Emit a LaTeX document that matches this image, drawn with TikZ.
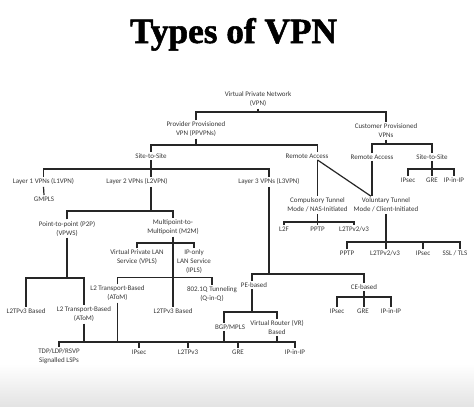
\documentclass[tikz,border=0pt]{standalone}
\usepackage{fontspec}
\usepackage{graphicx}
\newfontfamily\lab{Carlito}
\newfontfamily\ttl[BoldFeatures={FakeBold=1.5}]{Liberation Serif}
\usetikzlibrary{calc}
\begin{document}
\begin{tikzpicture}[x=1pt,y=-1pt,
  lbl/.style={font=\lab\fontsize{7}{9}\selectfont, text=black!78, align=center, inner xsep=0.5pt, inner ysep=1.5pt},
  ln/.style={draw=black!85, line width=1.2pt}]
\useasboundingbox (0,0) rectangle (474,407);
\fill[white] (0,0) rectangle (474,407);
\shade[top color=white,bottom color=black!11] (0,364) rectangle (474,407);

\node[anchor=base, inner sep=0pt] (title) at (233.5,43) {\resizebox{207pt}{25pt}{\ttl\bfseries Types of VPN}};

% nodes
\node[lbl] (vpn) at (258,99.5) {Virtual Private Network\\(VPN)};
\node[lbl] (ppvpn) at (196,129.5) {Provider Provisioned\\VPN (PPVPNs)};
\node[lbl] (cpvpn) at (386,131) {Customer Provisioned\\VPNs};
\node[lbl] (s2s) at (151,156) {Site-to-Site};
\node[lbl] (ra) at (307,156) {Remote Access};
\node[lbl] (cra) at (372,157) {Remote Access};
\node[lbl] (cs2s) at (432,157) {Site-to-Site};
\node[lbl] (cipsec) at (408,180) {IPsec};
\node[lbl] (cgre) at (432,180) {GRE};
\node[lbl] (cipip) at (454,180) {IP-in-IP};
\node[lbl] (l1) at (43.5,182) {Layer 1 VPNs (L1VPN)};
\node[lbl] (l2) at (137,182) {Layer 2 VPNs (L2VPN)};
\node[lbl] (l3) at (269,182) {Layer 3 VPNs (L3VPN)};
\node[lbl] (gmpls) at (44,199) {GMPLS};
\node[lbl] (comp) at (317.5,205) {Compulsory Tunnel\\Mode / NAS-Initiated};
\node[lbl] (vol) at (386,205) {Voluntary Tunnel\\Mode / Client-Initiated};
\node[lbl] (l2f) at (284,229) {L2F};
\node[lbl] (pptpa) at (317.5,229) {PPTP};
\node[lbl] (ltpa) at (354,229) {L2TPv2/v3};
\node[lbl] (pptpb) at (347,253) {PPTP};
\node[lbl] (ltpb) at (385,253) {L2TPv2/v3};
\node[lbl] (ipsecb) at (423,253) {IPsec};
\node[lbl] (ssl) at (455,253) {SSL / TLS};
\node[lbl] (p2p) at (67,228.5) {Point-to-point (P2P)\\(VPWS)};
\node[lbl] (m2m) at (173,227.5) {Multipoint-to-\\Multipoint (M2M)};
\node[lbl] (vpls) at (137,257.5) {Virtual Private LAN\\Service (VPLS)};
\node[lbl] (ipls) at (194,262) {IP-only\\LAN Service\\(IPLS)};
\node[lbl] (atomb) at (117.5,293.5) {L2 Transport-Based\\(AToM)};
\node[lbl] (qinq) at (212,294) {802.1Q Tunneling\\(Q-in-Q)};
\node[lbl] (ltbb) at (173,311) {L2TPv3 Based};
\node[lbl] (ltba) at (26,311) {L2TPv3 Based};
\node[lbl] (atoma) at (84,314.5) {L2 Transport-Based\\(AToM)};
\node[lbl] (pe) at (254,285) {PE-based};
\node[lbl] (ce) at (364,287) {CE-based};
\node[lbl] (ceipsec) at (337,311) {IPsec};
\node[lbl] (cegre) at (363,311) {GRE};
\node[lbl] (ceipip) at (391,311) {IP-in-IP};
\node[lbl] (bgp) at (230,327) {BGP/MPLS};
\node[lbl] (vr) at (277,327.5) {Virtual Router (VR)\\Based};
\node[lbl] (tdp) at (59,356) {TDP/LDP/RSVP\\Signalled LSPs};
\node[lbl] (bipsec) at (139,352) {IPsec};
\node[lbl] (bltp) at (188,352) {L2TPv3};
\node[lbl] (bgre) at (238,352) {GRE};
\node[lbl] (bipip) at (295,352) {IP-in-IP};

% helper coordinates for off-centre connectors
\coordinate (raT) at ([xshift=10.5pt]ra.north);
\coordinate (raB) at ([xshift=10.5pt]ra.south);
\coordinate (l2T) at ([xshift=14pt]l2.north);
\coordinate (l2B) at ([xshift=14pt]l2.south);
\coordinate (volT) at ([xshift=-15pt]vol.north);
\coordinate (sslT) at ([xshift=5pt]ssl.north);
\coordinate (peB) at ([xshift=-2pt]pe.south);
\coordinate (peT) at ([xshift=-2pt]pe.north);
\coordinate (bgpT) at ([xshift=-6pt]bgp.north);
\coordinate (bgpB) at ([xshift=-6pt]bgp.south);

% connectors
\draw[ln] (vpn.south) -- (vpn.south |- 0,112);
\draw[ln] (ppvpn.north) |- (cpvpn.north |- 0,112) -- (cpvpn.north);

\draw[ln] (ppvpn.south) -- (ppvpn.south |- 0,145);
\draw[ln] (s2s.north) |- (raT |- 0,145) -- (raT);

\draw[ln] (cpvpn.south) -- (cpvpn.south |- 0,144);
\draw[ln] (cra.north) |- (cs2s.north |- 0,144) -- (cs2s.north);

\draw[ln] (cs2s.south) -- (cgre.north);
\draw[ln] (cipsec.north) |- (cipip.north |- 0,169) -- (cipip.north);

\draw[ln] (s2s.south) -- (s2s.south |- 0,169);
\draw[ln] (l1.north) |- (l3.north |- 0,169) -- (l3.north);
\draw[ln] (l2T |- 0,169) -- (l2T);

\draw[ln] (raB) -- (raB |- comp.north);
\draw[ln] (raB) -- (volT);
\draw[ln] (cra.south) -- (cra.south |- volT);

\draw[ln] (comp.south) -- (pptpa.north);
\draw[ln] (l2f.north) |- (ltpa.north |- 0,222) -- (ltpa.north);

\draw[ln] (vol.south) -- (vol.south |- ltpb.north);
\draw[ln] (pptpb.north) |- (sslT |- 0,242) -- (sslT);
\draw[ln] (ipsecb.north) -- (ipsecb.north |- 0,242);

\draw[ln] (l1.south) -- (gmpls.north);

\draw[ln] (l2B) -- (l2B |- 0,211);
\draw[ln] (p2p.north) |- (m2m.north |- 0,211) -- (m2m.north);

\draw[ln] (m2m.south) -- (ltbb.north);
\draw[ln] (vpls.north) |- (ipls.north |- 0,243) -- (ipls.north);
\draw[ln] (atomb.north) |- (qinq.north |- 0,277.5) -- (qinq.north);

\draw[ln] (p2p.south) -- (p2p.south |- 0,278);
\draw[ln] (ltba.north) |- (atoma.north |- 0,278) -- (atoma.north);

\draw[ln] (l3.south) -- (l3.south |- 0,274);
\draw[ln] (peT) |- (ce.north |- 0,274) -- (ce.north);

\draw[ln] (ce.south) -- (ce.south |- cegre.north);
\draw[ln] (ceipsec.north) |- (ceipip.north |- 0,297) -- (ceipip.north);

\draw[ln] (peB) -- (peB |- 0,312);
\draw[ln] (bgpT) |- (vr.north |- 0,312) -- (vr.north);

\draw[ln] (tdp.north) |- (bipip.north |- 0,342) -- (bipip.north);
\draw[ln] (atoma.south) -- (atoma.south |- 0,342);
\draw[ln] (atomb.south) -- (atomb.south |- 0,342);
\draw[ln] (bgpB) -- (bgpB |- 0,342);
\draw[ln] (vr.south) -- (vr.south |- 0,342);
\draw[ln] (bipsec.north) -- (bipsec.north |- 0,342);
\draw[ln] (bltp.north) -- (bltp.north |- 0,342);
\draw[ln] (bgre.north) -- (bgre.north |- 0,342);
\end{tikzpicture}
\end{document}
